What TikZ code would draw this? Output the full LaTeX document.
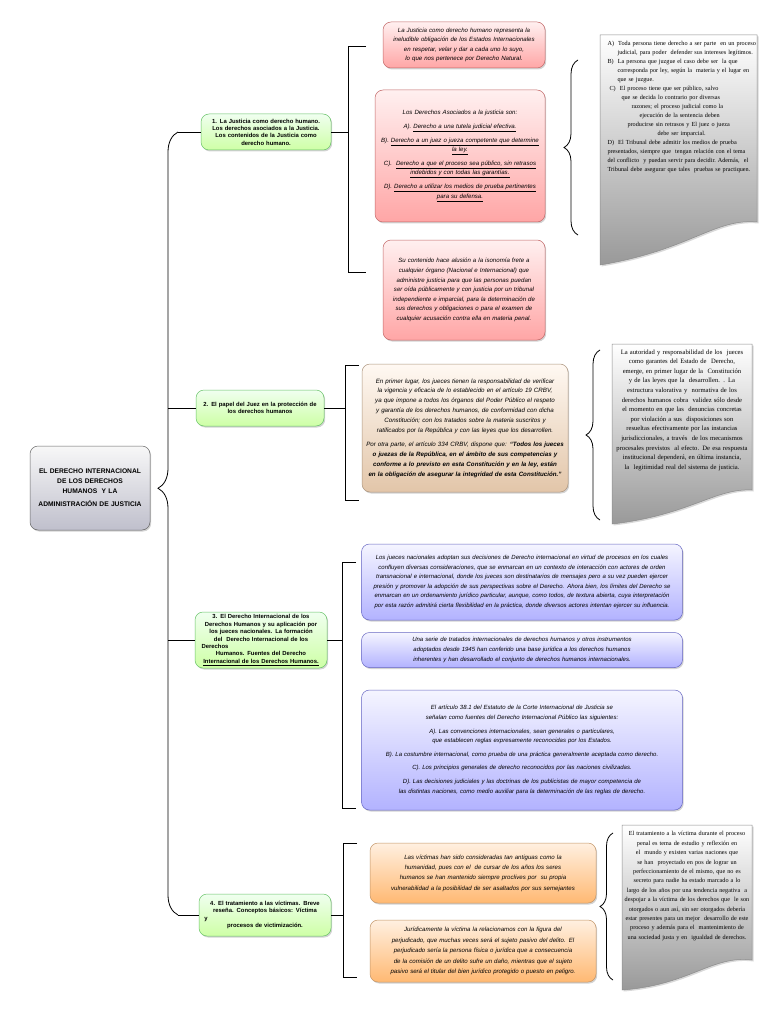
\documentclass[tikz,border=0pt]{standalone}
\usepackage{fontspec}
\setmainfont{Liberation Sans}
\newfontfamily\serifdoc{Liberation Serif}
\usetikzlibrary{decorations.pathreplacing,shadows,calc}
\hyphenpenalty=10000 \exhyphenpenalty=10000
\begin{document}
\begin{tikzpicture}[x=1pt,y=-1pt,
  box/.style={rounded corners=8pt,draw=#1!60!black!60,line width=0.5pt,align=center,inner sep=2pt,
     drop shadow={opacity=0.35,shadow xshift=1.2pt,shadow yshift=-1.5pt}},
  green/.style={box=green,top color=green!6,bottom color=green!55!yellow!35,font=\fontsize{5.9}{7.4}\selectfont\bfseries},
  pink/.style={box=red,top color=red!6,bottom color=red!35,font=\fontsize{6.1}{9.6}\selectfont\itshape},
  brown/.style={box=brown,top color=orange!5,bottom color=brown!45,font=\fontsize{6.2}{9.8}\selectfont\itshape},
  blue/.style={box=blue,top color=blue!4,bottom color=blue!30,font=\fontsize{6}{9.6}\selectfont\itshape},
  orng/.style={box=orange,top color=orange!12,bottom color=orange!55,font=\fontsize{6.1}{10.4}\selectfont\itshape},
  doctext/.style={font=\serifdoc\fontsize{6.6}{9.6}\selectfont,align=center,text width=#1},
  brc/.style={decorate,decoration={brace,amplitude=#1,aspect=0.5},line width=0.8pt},
  link/.style={line width=0.8pt}]
\useasboundingbox (0,0) rectangle (768,1024);
\tikzset{docfill/.style={top color=white,bottom color=black!40,draw=black!45,line width=0.5pt,drop shadow={opacity=0.3,shadow xshift=1.5pt,shadow yshift=-1.5pt}}}

% root
\node[box=black,top color=black!3,bottom color=blue!20!black!25,minimum width=120pt,minimum height=84pt,
  font=\fontsize{6.7}{10}\selectfont\bfseries,text width=116pt] (root) at (90,488)
  {EL DERECHO INTERNACIONAL\\ DE LOS DERECHOS\\ HUMANOS\ \ Y LA\\[3pt] ADMINISTRACIÓN DE JUSTICIA};

% main branches
\node[green,minimum width=128pt,minimum height=36pt,text width=126pt] (b1) at (266,132)
 {1. La Justicia como derecho humano.\\ Los derechos asociados a la Justicia.\\ Los contenidos de la Justicia como\\ derecho humano.};
\node[green,minimum width=126pt,minimum height=36pt,text width=124pt] (b2) at (260,408)
 {2. El papel del Juez en la protección de\\ los derechos humanos\\[6pt]};
\node[green,minimum width=128pt,minimum height=56pt,text width=128pt] (b3) at (261,640)
 {3. El Derecho Internacional de los\\ Derechos Humanos y su aplicación por\\ los jueces nacionales. La formación\\ del\ \ Derecho Internacional de los\\ \hspace*{-92pt}Derechos\\ Humanos. Fuentes del Derecho\\ \underline{Internacional de los Derechos Humanos.}};
\node[green,minimum width=130pt,minimum height=42pt,text width=128pt] (b4) at (265,915)
 {4. El tratamiento a las víctimas. Breve\\ reseña. Conceptos básicos: Víctima\\ \hspace*{-118pt}y\\ procesos de victimización.};

\draw[brc=20pt,decoration={aspect=0.545}] (178,915) -- (178,132);
\coordinate (mb) at (168,0);
\draw[link] (178,132) -- (b1.west);
\draw[link] (178,915) -- (b4.west);
\draw[link] (b2.west -| mb) -- (b2.west);
\draw[link] (b3.west -| mb) -- (b3.west);

% group 1
\node[pink,minimum width=162pt,minimum height=46pt,text width=158pt] (p1) at (464,45)
 {La Justicia como derecho humano representa la ineludible obligación de los Estados Internacionales en respetar, velar y dar a cada uno lo suyo, lo que nos pertenece por Derecho Natural.};
\node[pink,minimum width=170pt,minimum height=132pt,text width=166pt] (p2) at (460,156)
 {Los Derechos Asociados a la justicia son:\\[4pt]
  A). \underline{Derecho a una tutela judicial efectiva.}\\[4pt]
  B). \underline{Derecho a un juez o jueza competente que determine}\\ \underline{la ley.}\\[4pt]
  C). \ \underline{Derecho a que el proceso sea público, sin retrasos}\\ \underline{indebidos y con todas las garantías.}\\[4pt]
  D). \underline{Derecho a utilizar los medios de prueba pertinentes}\\ \underline{para su defensa.}};
\node[pink,minimum width=162pt,minimum height=100pt,text width=158pt] (p3) at (464,290)
 {Su contenido hace alusión a la isonomía frete a cualquier órgano (Nacional e Internacional) que administre justicia para que las personas puedan ser oída públicamente y con justicia por un tribunal independiente e imparcial, para la determinación de sus derechos y obligaciones o para el examen de cualquier acusación contra ella en materia penal.};
\coordinate (k1t) at (348,46);
\coordinate (k1b) at (348,272);
\draw[link] (b1.east) -- (b1.east -| k1t);
\draw[link] ($(k1t)+(18,0)$) -- (k1t) -- (k1b) -- ($(k1b)+(18,0)$);

\draw[brc=14pt] (578,235) -- (578,60);
\draw[docfill] (600,35) -- (757,35) -- (757,222) .. controls (715,218) and (690,250) .. (600,265) -- cycle;
\node[doctext=150pt,align=left,anchor=north west,font=\serifdoc\fontsize{6.2}{9}\selectfont] (d1) at (604,38)
 {\hangindent=10pt A)\ \ Toda persona tiene derecho a ser parte\ \ en un proceso judicial, para poder\ \ defender sus intereses legítimos.\\
  \hangindent=10pt B)\ \ La persona que juzgue el caso debe ser\ \ la que corresponda por ley, según la\ \ materia y el lugar en que se juzgue.\\
  \hspace*{2pt}C)\ \ El proceso tiene que ser público, salvo\\ \hspace*{14pt}que se decida lo contrario por diversas\\ \hspace*{24pt}razones; el proceso judicial como la\\ \hspace*{32pt}ejecución de la sentencia deben\\ \hspace*{20pt}producirse sin retrasos y El juez o jueza\\ \hspace*{50pt}debe ser imparcial.\\
  \hangindent=10pt D)\ \ El Tribunal debe admitir los medios de prueba presentados, siempre que\ \ tengan relación con el tema del conflicto\ \ y puedan servir para decidir.\ Además,\ \ el Tribunal debe asegurar que tales\ \ pruebas se practiquen.};

% group 2
\node[brown,minimum width=206pt,minimum height=128pt,text width=200pt] (r1) at (465,428)
 {En primer lugar, los jueces tienen la responsabilidad de verificar la vigencia y eficacia de lo establecido en el artículo 19 CRBV, ya que impone a todos los órganos del Poder Público el respeto y garantía de los derechos humanos, de conformidad con dicha Constitución; con los tratados sobre la materia suscritos y ratificados por la República y con las leyes que los desarrollen.\\[5pt]
  Por otra parte, el artículo 334 CRBV, dispone que: {\bfseries``Todos los jueces o juezas de la República, en el ámbito de sus competencias y conforme a lo previsto en esta Constitución y en la ley, están en la obligación de asegurar la integridad de esta Constitución.''}};
\coordinate (k2t) at (345,365);
\coordinate (k2b) at (345,500);
\draw[link] (b2.east) -- (b2.east -| k2t);
\draw[link] ($(k2t)+(14,0)$) -- (k2t) -- (k2b) -- ($(k2b)+(14,0)$);

\draw[brc=14pt] (600,520) -- (600,350);
\draw[docfill] (612,344) -- (752,344) -- (752,490) .. controls (715,488) and (690,515) .. (612,524) -- cycle;
\node[doctext=136pt,anchor=north] (d2) at (682,346)
 {La autoridad y responsabilidad de los\ \ jueces como garantes del Estado de\ \ Derecho, emerge, en primer lugar de la\ \ Constitución y de las leyes que la\ \ desarrollen. . La estructura valorativa y\ \ normativa de los derechos humanos cobra\ \ validez sólo desde el momento en que las\ \ denuncias concretas por violación a sus\ \ disposiciones son resueltas efectivamente por las instancias jurisdiccionales, a través\ \ de los mecanismos\ \ procesales previstos\ \ al efecto. De esa respuesta institucional dependerá, en última instancia, la\ \ legitimidad real del sistema de justicia.};

% group 3
\node[blue,minimum width=321pt,minimum height=76pt,text width=316pt] (u1) at (522,582)
 {Los jueces nacionales adoptan sus decisiones de Derecho internacional en virtud de procesos en los cuales confluyen diversas consideraciones, que se enmarcan en un contexto de interacción con actores de orden transnacional e internacional, donde los jueces son destinatarios de mensajes pero a su vez pueden ejercer presión y promover la adopción de sus perspectivas sobre el Derecho. Ahora bien, los límites del Derecho se enmarcan en un ordenamiento jurídico particular, aunque, como todos, de textura abierta, cuya interpretación por esta razón admitirá cierta flexibilidad en la práctica, donde diversos actores intentan ejercer su influencia.};
\node[blue,minimum width=321pt,minimum height=35pt,text width=316pt] (u2) at (522,650)
 {Una serie de tratados internacionales de derechos humanos y otros instrumentos adoptados desde 1945 han conferido una base jurídica a los derechos humanos inherentes y han desarrollado el conjunto de derechos humanos internacionales.};
\node[blue,minimum width=321pt,minimum height=120pt,text width=306pt] (u3) at (522,750)
 {El artículo 38.1 del Estatuto de la Corte Internacional de Justicia se señalan como fuentes del Derecho Internacional Público las siguientes:\\[4pt]
  A). Las convenciones internacionales, sean generales o particulares, que establecen reglas expresamente reconocidas por los Estados.\\[4pt]
  B). La costumbre internacional, como prueba de una práctica generalmente aceptada como derecho.\\[4pt]
  C). Los principios generales de derecho reconocidos por las naciones civilizadas.\\[4pt]
  D). Las decisiones judiciales y las doctrinas de los publicistas de mayor competencia de las distintas naciones, como medio auxiliar para la determinación de las reglas de derecho.};
\coordinate (k3t) at (342,562);
\coordinate (k3b) at (342,808);
\draw[link] (b3.east) -- (b3.east -| k3t);
\draw[link] ($(k3t)+(14,0)$) -- (k3t) -- (k3b) -- ($(k3b)+(14,0)$);

% group 4
\node[orng,minimum width=226pt,minimum height=60pt,text width=218pt] (o1) at (483,873)
 {Las víctimas han sido consideradas tan antiguas como la humanidad, pues con el\ \ de cursar de los años los seres humanos se han mantenido siempre proclives por\ \ su propia vulnerabilidad a la posibilidad de ser asaltados por sus semejantes};
\node[orng,minimum width=226pt,minimum height=62pt,text width=218pt] (o2) at (483,951)
 {Jurídicamente la víctima la relacionamos con la figura del perjudicado, que muchas veces será el sujeto pasivo del delito. El perjudicado sería la persona física o jurídica que a consecuencia de la comisión de un delito sufre un daño, mientras que el sujeto pasivo será el titular del bien jurídico protegido o puesto en peligro.};
\coordinate (k4t) at (343,843);
\coordinate (k4b) at (343,977);
\draw[link] (b4.east) -- (b4.east -| k4t);
\draw[link] ($(k4t)+(14,0)$) -- (k4t) -- (k4b) -- ($(k4b)+(14,0)$);

\draw[brc=13pt] (613,980) -- (613,833);
\draw[docfill] (622,825) -- (752,825) -- (752,960) .. controls (712,955) and (690,985) .. (622,990) -- cycle;
\node[doctext=128pt,anchor=north,font=\serifdoc\fontsize{6.2}{9.4}\selectfont] (d4) at (687,828)
 {El tratamiento a la víctima durante el proceso penal es tema de estudio y reflexión en el\ \ mundo y existen varias naciones que se han\ \ proyectado en pos de lograr un\ \ perfeccionamiento de el mismo, que no es\ \ secreto para nadie ha estado marcado a lo\ \ largo de los años por una tendencia negativa\ \ a despojar a la víctima de los derechos que\ \ le son otorgados o aun así, sin ser otorgados debería estar presentes para un mejor\ \ desarrollo de este proceso y además para el\ \ mantenimiento de una sociedad justa y en\ \ igualdad de derechos.};
\end{tikzpicture}
\end{document}
